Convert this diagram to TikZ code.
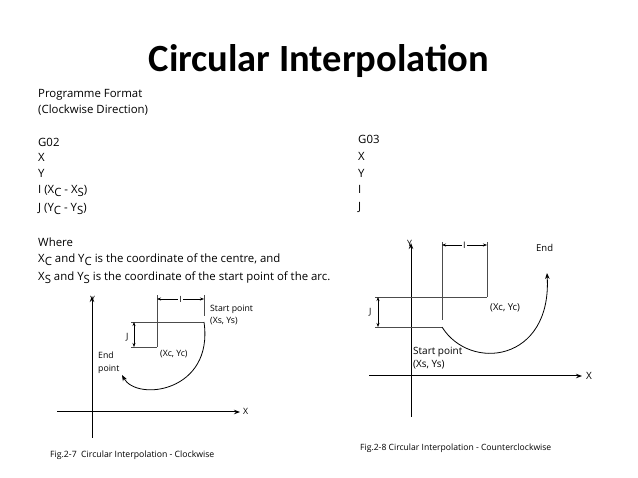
\documentclass[tikz,border=0pt]{standalone}
\usepackage{fontspec}
\setmainfont{Open Sans}
\newfontfamily\titlefont{Carlito}
\usetikzlibrary{arrows.meta}
\begin{document}
\begin{tikzpicture}[x=1pt,y=-1pt,
  txt/.style={anchor=base west,inner sep=0pt,font=\fontsize{11.4}{14}\selectfont},
  lbl/.style={anchor=base west,inner sep=0pt,font=\fontsize{8.7}{10}\selectfont},
  thin line/.style={draw=black!70,line width=0.5pt},
  axis/.style={line width=1pt,-{Stealth[length=6pt]}},
  dim/.style={line width=0.5pt,{Stealth[length=4pt]}-{Stealth[length=4pt]}},
  path arc/.style={line width=0.8pt,-{Stealth[length=6pt]}}]
\useasboundingbox (0,0) rectangle (638,478);
\newcommand{\sbs}[1]{\raisebox{-0.35ex}{#1}}
\node[anchor=base,inner sep=0pt,font=\titlefont\bfseries\fontsize{38.5}{44}\selectfont] (title) at (319,72) {Circular Interpolation};
\node[txt] (t1) at (38,98) {Programme Format};
\node[txt] (t2) at (38,114) {(Clockwise Direction)};
\node[txt] (t3) at (38,147) {G02};
\node[txt] (t4) at (38,162) {X};
\node[txt] (t5) at (38,178) {Y};
\node[txt] (t6) at (38,194) {I (X\sbs{C} - X\sbs{S})};
\node[txt] (t7) at (38,212) {J (Y\sbs{C} - Y\sbs{S})};
\node[txt] (t8) at (38,247) {Where};
\node[txt] (t9) at (38,263) {X\sbs{C} and Y\sbs{C} is the coordinate of the centre, and};
\node[txt] (t10) at (38,281) {X\sbs{S} and Y\sbs{S} is the coordinate of the start point of the arc.};
\node[txt] (r1) at (358,144) {G03};
\node[txt] (r2) at (358,161) {X};
\node[txt] (r3) at (358,178) {Y};
\node[txt] (r4) at (358,194) {I};
\node[txt] (r5) at (358,211) {J};
% left diagram
\coordinate (lyb) at (92,438); \coordinate (lyt) at (92,296);
\coordinate (lxl) at (57,412); \coordinate (lxr) at (240,412);
\draw[axis] (lyb) -- (lyt);
\draw[axis] (lxl) -- (lxr);
\node[lbl] (lY) at (90,303) {Y};
\node[lbl] (lX) at (243,415) {X};
\coordinate (lc) at (157,347); \coordinate (ls) at (204,322);
\coordinate (lct) at (157,295); \coordinate (lst) at (204,295); \coordinate (lst2) at (204,316);
\coordinate (ljl1) at (131,322); \coordinate (ljl2) at (131,347);
\draw[thin line] (lc) -- (lct);
\draw[thin line] (lst) -- (lst2);
\draw[thin line] (ljl1) -- (ls);
\draw[thin line] (ljl2) -- (lc);
\coordinate (lia) at (157,299); \coordinate (lib) at (204,299);
\draw[dim] (lia) -- node[fill=white,inner sep=1pt,font=\fontsize{8.5}{9}\selectfont] (lI) {I} (lib);
\coordinate (lja) at (134,322); \coordinate (ljb) at (134,347);
\draw[dim] (lja) -- (ljb);
\node[lbl] (lJ) at (126,340) {J};
\coordinate (le) at (122,375);
\draw[path arc] (ls) .. controls (214,392) and (137,402) .. (le);
\node[lbl] (lsp) at (210,312) {Start point};
\node[lbl] (lsp2) at (210,324) {(Xs, Ys)};
\node[lbl] (lcl) at (160,357) {(Xc, Yc)};
\node[lbl] (lend) at (98,359) {End};
\node[lbl] (lend2) at (98,372) {point};
\node[anchor=base west,inner sep=0pt,font=\fontsize{8.7}{10}\selectfont] (lcap) at (50,458) {Fig.2-7\ \ Circular Interpolation - Clockwise};
% right diagram
\coordinate (ryb) at (411,417); \coordinate (ryt) at (411,243);
\coordinate (rxl) at (369,376); \coordinate (rxr) at (582,376);
\draw[axis] (ryb) -- (ryt);
\draw[axis] (rxl) -- (rxr);
\node[lbl] (rY) at (407,247) {Y};
\node[lbl,font=\fontsize{10}{10}\selectfont] (rX) at (586,380) {X};
\coordinate (rc) at (487,297); \coordinate (rs) at (442,327);
\coordinate (rct) at (487,242); \coordinate (rst) at (442,242); \coordinate (rs2) at (442,320);
\coordinate (rjl1) at (375,297); \coordinate (rjl2) at (375,327);
\draw[thin line] (rc) -- (rct);
\draw[thin line] (rst) -- (rs2);
\draw[thin line] (rjl1) -- (rc);
\draw[thin line] (rjl2) -- (rs);
\coordinate (ria) at (442,245); \coordinate (rib) at (487,245);
\draw[dim] (ria) -- node[fill=white,inner sep=1pt,font=\fontsize{9}{9}\selectfont] (rI) {I} (rib);
\coordinate (rja) at (378,297); \coordinate (rjb) at (378,327);
\draw[dim] (rja) -- (rjb);
\node[lbl] (rJ) at (369,315) {J};
\coordinate (re) at (547,273);
\draw[path arc] (rs) .. controls (470,372) and (552,362) .. (re);
\node[lbl,font=\fontsize{9.5}{10}\selectfont] (rend) at (536,252) {End};
\node[lbl,font=\fontsize{9.5}{10}\selectfont] (rcl) at (490,311) {(Xc, Yc)};
\node[lbl,font=\fontsize{10}{10}\selectfont] (rsp) at (413,355) {Start point};
\node[lbl,font=\fontsize{10}{10}\selectfont] (rsp2) at (413,368) {(Xs, Ys)};
\node[anchor=base west,inner sep=0pt,font=\fontsize{8.6}{10}\selectfont] (rcap) at (360,451) {Fig.2-8 Circular Interpolation - Counterclockwise};
\end{tikzpicture}
\end{document}
